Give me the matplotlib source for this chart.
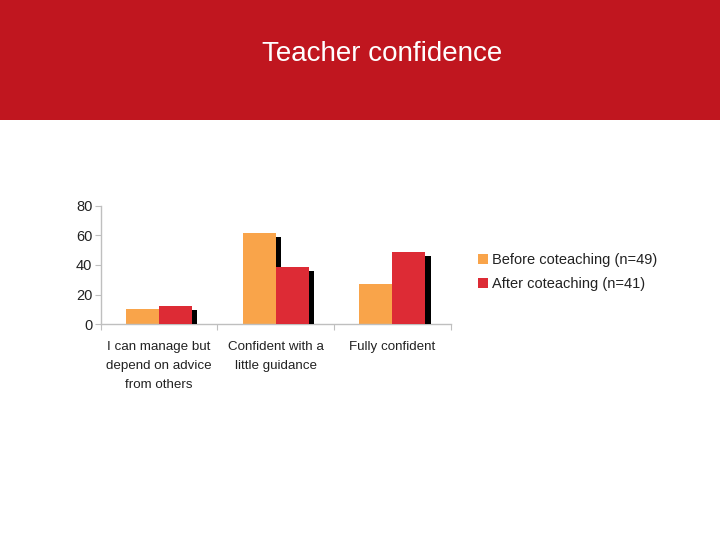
import numpy as np
import matplotlib
matplotlib.use('Agg')
import matplotlib.pyplot as plt
import matplotlib.patheffects as pe
from matplotlib.patches import Rectangle, Patch

plt.rcParams['font.family'] = ['Liberation Sans', 'DejaVu Sans']

# data
categories = ['I can manage but\ndepend on advice\nfrom others',
              'Confident with a\nlittle guidance',
              'Fully confident']
before = [10, 62, 27]
after = [12, 38.5, 48.5]
series_names = ['Before coteaching (n=49)', 'After coteaching (n=41)']
yticks = [0, 20, 40, 60, 80]

c_orange = '#F9A44A'
c_red = '#DD2B35'
c_bar = '#C0161F'
c_axis = '#BFBFBF'

fig = plt.figure(figsize=(7.2, 5.4), dpi=100)
fig.patch.set_facecolor('white')

# red title band
fig.patches.append(Rectangle((0, 1 - 120/540), 1, 120/540, transform=fig.transFigure,
                             facecolor=c_bar, edgecolor='none', zorder=0))
fig.text(382/720, 1 - 54/540, 'Teacher confidence', color='white', fontsize=20,
         ha='center', va='center')

ax = fig.add_axes([100.7/720, 1 - 324/540, 350/720, 118/540])
x = np.arange(len(categories))
w = 0.283
shadow = [pe.SimplePatchShadow(offset=(3.8, -2.9), shadow_rgbFace='black', alpha=1.0, rho=1.0),
          pe.Normal()]
b1 = ax.bar(x - w/2, before, w, color=c_orange, zorder=2)
b2 = ax.bar(x + w/2, after, w, color=c_red, zorder=3)
for p in list(b1) + list(b2):
    p.set_path_effects(shadow)

ax.set_xlim(-0.5, 2.5)
ax.set_ylim(0, 80)
ax.set_yticks(yticks)
ax.set_xticks([-0.5, 0.5, 1.5, 2.5])
ax.set_xticklabels([])
ax.set_xticks(x, minor=True)
ax.set_xticklabels(categories, minor=True, fontsize=9.6, linespacing=1.8, color='#222222')
ax.tick_params(axis='x', which='minor', length=0, pad=12)
ax.tick_params(axis='x', which='major', length=4, color=c_axis, direction='out')
ax.tick_params(axis='y', length=4, color=c_axis, labelsize=10.5, labelcolor='#222222', pad=2)
for s in ['top', 'right']:
    ax.spines[s].set_visible(False)
for s in ['left', 'bottom']:
    ax.spines[s].set_color(c_axis)
    ax.spines[s].set_linewidth(1.0)

handles = [Patch(facecolor=c_orange, edgecolor='none'), Patch(facecolor=c_red, edgecolor='none')]
fig.legend(handles=handles, labels=series_names, loc='center left',
           bbox_to_anchor=(465/720, 1 - 272/540), frameon=False, fontsize=10.5,
           handlelength=0.7, handleheight=0.7, handletextpad=0.25, labelspacing=0.7,
           labelcolor='#222222')

fig.savefig('out.png', dpi=100)
